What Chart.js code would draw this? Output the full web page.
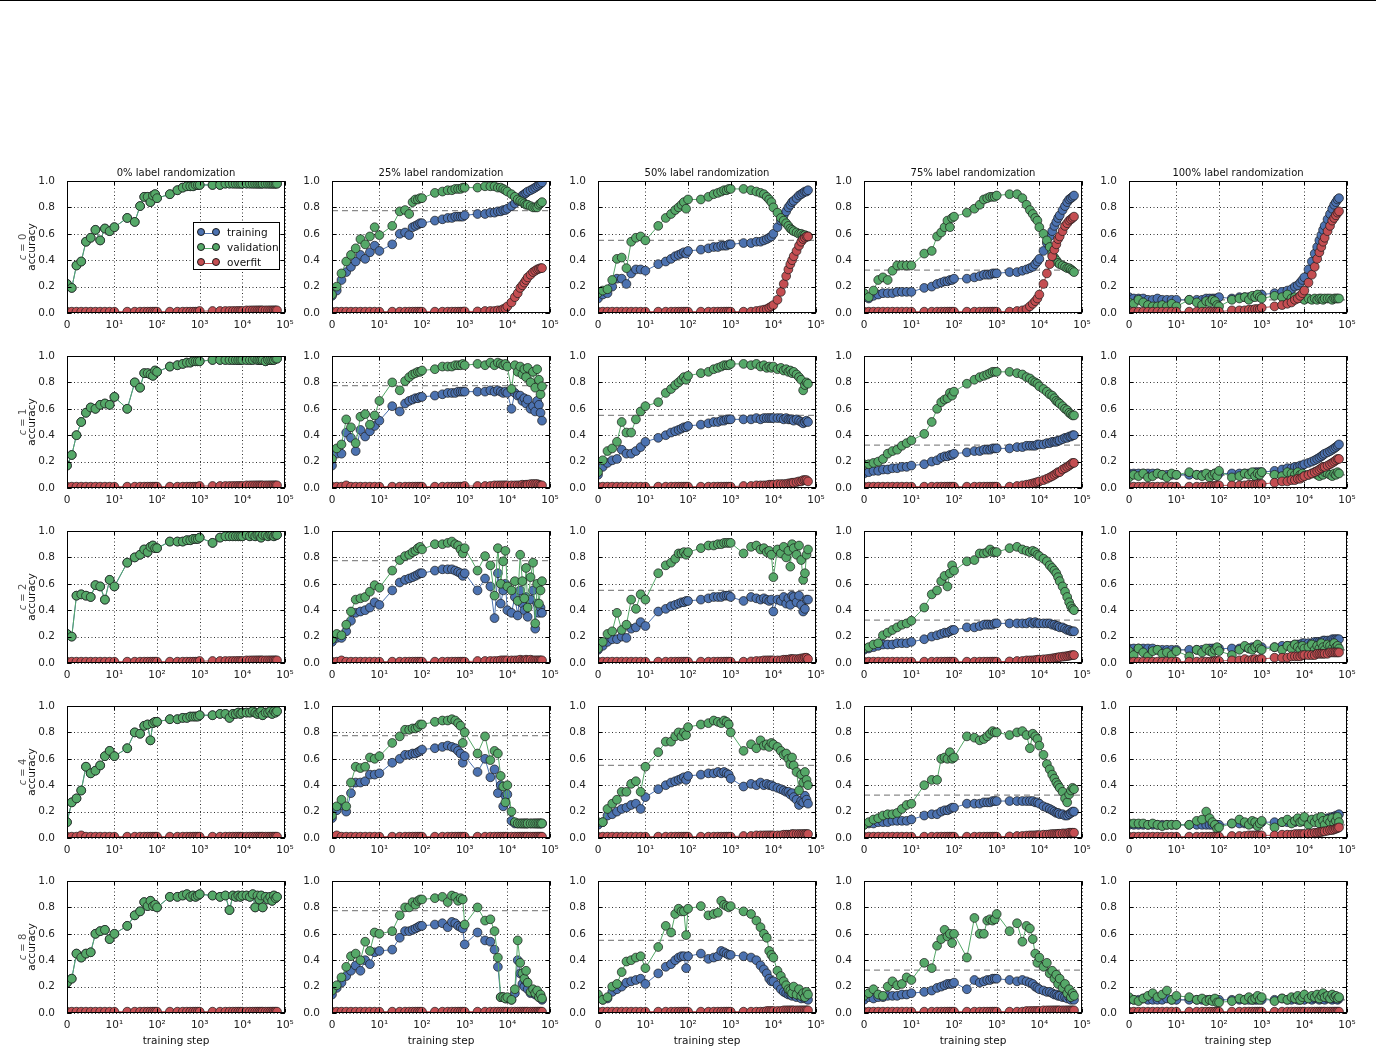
<!DOCTYPE html>
<html><head><meta charset="utf-8">
<script src="https://cdn.jsdelivr.net/npm/chart.js@4.4.1/dist/chart.umd.min.js"></script>
<style>
html,body{margin:0;padding:0;background:#fff;}
body{width:1376px;height:1048px;position:relative;overflow:hidden;font-family:"DejaVu Sans",sans-serif;color:#111;}
.topline{position:absolute;left:0;top:0;width:1376px;height:1px;background:#000;}
canvas{position:absolute;}
.title{position:absolute;transform:translate(-50%,-50%);font-size:10px;white-space:nowrap;}
.xlab{position:absolute;transform:translate(-50%,-50%);font-size:10.5px;white-space:nowrap;}
.ylab{position:absolute;transform:translate(-50%,-50%) rotate(-90deg);white-space:nowrap;font-size:10.5px;}
.ylab.c{color:#555;font-size:10px;}
.legend{position:absolute;left:193px;top:222px;width:87px;height:48px;border:1px solid #000;background:#fff;box-sizing:border-box;}
.lrow{position:absolute;left:0;height:10px;width:100%;}
.lline{position:absolute;left:7px;top:4.5px;width:15px;height:1px;}
.ldot{position:absolute;top:0;width:8px;height:8px;border-radius:50%;border:0.8px solid #1a1a1a;box-sizing:border-box;}
.ltxt{position:absolute;left:33px;top:-2px;font-size:10.5px;line-height:12px;}
</style>
</head><body>
<div class="topline"></div>
<script>
// ---------- axis / category data ----------
const STEPS = [0,1,2,3,4,5,6,7,8,9,10, 20,30,40,50,60,70,80,90,100, 200,300,400,500,600,700,800,900,1000,
  2000,3000,4000,5000,6000,7000,8000,9000,10000, 12500,15000,17500,20000,22500,25000,27500,30000,35000,40000,45000,50000,55000,60000,65000];
const RANDOMIZATION = ['0%','25%','50%','75%','100%'];
const C_VALUES = [0,1,2,4,8];
const CHANCE = [1.0, 0.775, 0.55, 0.325, 0.1];
const X_TICK_STEPS = [0,10,100,1000,10000,100000];
const X_TICK_LABELS = ['0','10¹','10²','10³','10⁴','10⁵'];
const Y_TICKS = [0,0.2,0.4,0.6,0.8,1.0];
const SERIES_NAMES = ['training','validation','overfit'];

// ---------- c = 0 ----------
const val_c0_p0 = [.22,.19,.36,.39,.54,.57,.63,.55,.64,.62,.65, .72,.69,.81,.88,.88,.84,.89,.90,.87, .90,.93,.95,.96,.96,.96,.97,.97,.97, .97,.97,.98,.98,.98,.98,.98,.98,.98, .98,.98,.98,.98,.98,.98,.98,.98,.98,.98,.98,.98,.98,.98,.98];
const train_c0_p0 = val_c0_p0;
const over_c0_p0 = [.01,.01,.01,.01,.01,.01,.01,.01,.01,.01,.01, .01,.01,.01,.01,.01,.01,.01,.01,.01, .01,.01,.01,.01,.01,.01,.01,.01,.015, .015,.015,.015,.015,.015,.015,.015,.015,.015, .02,.02,.02,.02,.02,.02,.02,.02,.02,.02,.02,.02,.02,.02,.02];

const val_c0_p25 = [.14,.20,.30,.39,.44,.49,.56,.52,.58,.65,.59, .66,.77,.78,.75,.84,.86,.86,.87,.87, .91,.92,.93,.93,.94,.94,.94,.95,.95, .95,.96,.96,.96,.95,.95,.94,.93,.92, .90,.88,.86,.85,.84,.83,.82,.82,.81,.80,.80,.80,.82,.83,.84];
const train_c0_p25 = [.13,.17,.25,.31,.35,.39,.44,.41,.46,.51,.47, .52,.60,.61,.59,.65,.66,.67,.68,.68, .70,.71,.72,.72,.73,.73,.73,.73,.74, .75,.75,.76,.76,.77,.77,.78,.78,.79, .81,.83,.85,.87,.89,.90,.91,.92,.93,.94,.95,.96,.97,.98,.99];
const over_c0_p25 = [.01,.01,.01,.01,.01,.01,.01,.01,.01,.01,.01, .01,.01,.01,.01,.01,.01,.01,.01,.01, .01,.01,.01,.01,.01,.01,.01,.01,.012, .012,.015,.015,.015,.02,.02,.03,.035,.05, .08,.12,.15,.19,.21,.23,.25,.27,.29,.31,.32,.33,.335,.34,.34];

const val_c0_p50 = [.15,.17,.18,.25,.41,.42,.34,.54,.57,.58,.55, .66,.72,.75,.78,.80,.82,.84,.79,.86, .86,.88,.90,.91,.92,.93,.93,.94,.94, .94,.93,.92,.91,.90,.88,.86,.84,.80, .76,.72,.70,.68,.66,.64,.63,.62,.61,.60,.60,.59,.59,.58,.58];
const train_c0_p50 = [.11,.14,.15,.20,.26,.26,.22,.30,.33,.33,.32, .37,.39,.41,.43,.44,.45,.46,.45,.47, .48,.49,.50,.50,.51,.51,.51,.52,.52, .53,.53,.54,.54,.55,.56,.57,.58,.60, .65,.70,.74,.77,.80,.82,.84,.85,.87,.89,.90,.91,.92,.92,.93];
const over_c0_p50 = [.01,.01,.01,.01,.01,.01,.01,.01,.01,.01,.01, .01,.01,.01,.01,.01,.01,.01,.01,.01, .01,.01,.01,.01,.01,.01,.01,.01,.01, .01,.01,.015,.02,.025,.03,.04,.05,.06, .10,.16,.22,.28,.33,.37,.40,.43,.47,.51,.54,.56,.57,.58,.58];

const val_c0_p75 = [.15,.12,.17,.25,.27,.25,.32,.36,.36,.36,.36, .45,.47,.58,.61,.65,.70,.65,.72,.73, .76,.79,.82,.86,.87,.88,.88,.88,.89, .90,.90,.87,.82,.78,.75,.72,.70,.65, .60,.55,.50,.45,.42,.40,.38,.37,.36,.35,.34,.34,.33,.32,.31];
const train_c0_p75 = [.12,.11,.13,.14,.15,.15,.15,.16,.16,.16,.16, .19,.20,.22,.23,.24,.24,.25,.25,.26, .26,.27,.28,.29,.29,.29,.30,.30,.30, .31,.31,.32,.33,.34,.35,.37,.39,.41, .47,.53,.58,.62,.66,.69,.72,.74,.78,.81,.84,.86,.87,.88,.89];
const over_c0_p75 = [.01,.01,.01,.01,.01,.01,.01,.01,.01,.01,.01, .01,.01,.01,.01,.01,.01,.01,.01,.01, .01,.01,.01,.01,.01,.01,.01,.01,.01, .01,.015,.02,.03,.05,.07,.09,.11,.14, .22,.30,.37,.43,.48,.52,.56,.58,.62,.66,.68,.70,.71,.72,.73];

const train_c0_p100 = [.12,.11,.11,.11,.10,.10,.11,.10,.10,.10,.10, .10,.10,.10,.11,.11,.11,.11,.11,.12, .11,.12,.12,.12,.12,.13,.13,.13,.14, .15,.16,.17,.18,.20,.21,.23,.25,.27, .33,.39,.45,.50,.55,.59,.63,.66,.71,.75,.79,.82,.84,.86,.87];
const val_c0_p100 = [.08,.07,.10,.08,.06,.05,.05,.06,.05,.07,.05, .10,.08,.06,.09,.08,.10,.09,.06,.05, .10,.11,.12,.10,.13,.12,.14,.12,.11, .13,.12,.14,.11,.12,.11,.12,.11,.10, .11,.10,.11,.10,.11,.11,.10,.11,.11,.11,.10,.11,.11,.11,.11];
const over_c0_p100 = [.01,.01,.01,.01,.01,.01,.01,.01,.01,.01,.01, .01,.01,.01,.01,.01,.01,.01,.01,.01, .02,.02,.02,.025,.025,.03,.03,.03,.04, .05,.06,.07,.08,.10,.11,.13,.15,.17, .23,.29,.35,.41,.46,.50,.54,.57,.62,.66,.70,.72,.74,.76,.77];

// ---------- c = 1 ----------
const val_c1_p0 = [.17,.25,.40,.50,.57,.61,.60,.63,.64,.63,.69, .60,.80,.76,.87,.87,.86,.85,.89,.88, .92,.93,.94,.95,.95,.96,.96,.96,.96, .97,.97,.97,.97,.97,.97,.97,.97,.97, .97,.97,.97,.98,.97,.97,.97,.97,.96,.97,.97,.97,.97,.98,.98];
const train_c1_p0 = val_c1_p0;
const over_c1_p0 = [.01,.01,.01,.01,.01,.01,.01,.01,.01,.01,.01, .01,.01,.01,.01,.01,.01,.01,.01,.01, .01,.01,.01,.01,.01,.01,.01,.01,.015, .015,.015,.015,.015,.015,.015,.015,.015,.015, .02,.02,.02,.02,.02,.02,.02,.02,.02,.02,.02,.02,.02,.02,.02];

const val_c1_p25 = [.22,.30,.33,.52,.46,.34,.54,.56,.48,.55,.66, .80,.74,.81,.84,.86,.87,.88,.88,.89, .90,.92,.92,.92,.93,.93,.93,.94,.93, .94,.93,.95,.93,.95,.94,.93,.94,.92, .75,.93,.88,.92,.86,.90,.84,.91,.80,.88,.76,.90,.82,.71,.77];
const train_c1_p25 = [.17,.26,.26,.42,.38,.28,.44,.39,.43,.47,.51, .62,.58,.64,.66,.67,.68,.68,.69,.69, .70,.71,.72,.72,.72,.73,.73,.73,.73, .73,.73,.74,.73,.74,.73,.72,.73,.72, .60,.72,.70,.70,.66,.68,.64,.67,.60,.62,.58,.66,.63,.57,.51];
const over_c1_p25 = [.01,.01,.01,.02,.01,.01,.01,.01,.01,.01,.01, .01,.01,.01,.01,.01,.01,.01,.01,.01, .01,.01,.01,.01,.01,.01,.01,.01,.015, .015,.015,.015,.02,.02,.02,.02,.02,.02, .02,.02,.02,.02,.025,.02,.025,.025,.03,.03,.03,.03,.025,.02,.02];

const val_c1_p50 = [.12,.21,.28,.30,.35,.50,.42,.42,.52,.58,.62, .65,.72,.75,.78,.80,.82,.84,.82,.85, .87,.88,.90,.91,.92,.93,.93,.93,.94, .94,.93,.94,.92,.93,.91,.92,.91,.92, .90,.91,.89,.90,.88,.89,.87,.88,.86,.84,.82,.74,.78,.80,.79];
const train_c1_p50 = [.10,.16,.19,.21,.22,.29,.26,.26,.28,.31,.35, .38,.40,.42,.43,.44,.45,.46,.46,.47, .48,.49,.50,.50,.51,.51,.52,.52,.52, .52,.52,.53,.52,.53,.53,.53,.53,.53, .53,.53,.52,.53,.52,.52,.52,.51,.52,.51,.50,.49,.50,.51,.50];
const over_c1_p50 = [.01,.01,.01,.01,.01,.01,.01,.01,.01,.01,.01, .01,.01,.01,.01,.01,.01,.01,.01,.01, .01,.01,.01,.01,.01,.01,.01,.01,.01, .015,.015,.02,.02,.02,.02,.025,.025,.025, .03,.03,.03,.03,.035,.035,.04,.04,.045,.05,.05,.06,.06,.06,.05];

const val_c1_p75 = [.18,.18,.19,.20,.22,.26,.28,.29,.32,.34,.36, .41,.50,.60,.65,.67,.68,.72,.70,.73, .79,.82,.84,.85,.86,.87,.88,.88,.88, .88,.87,.86,.84,.83,.81,.80,.79,.77, .75,.73,.71,.70,.68,.66,.65,.64,.62,.60,.59,.57,.56,.55,.55];
const train_c1_p75 = [.11,.12,.13,.13,.14,.14,.15,.15,.16,.16,.17, .18,.20,.21,.23,.24,.24,.25,.25,.26, .27,.28,.28,.29,.29,.29,.30,.30,.30, .30,.31,.31,.32,.32,.32,.32,.33,.33, .33,.34,.34,.35,.35,.35,.36,.36,.37,.38,.38,.39,.39,.40,.40];
const over_c1_p75 = [.01,.01,.01,.01,.01,.01,.01,.01,.01,.01,.01, .01,.01,.01,.01,.01,.01,.01,.01,.01, .01,.01,.01,.01,.01,.01,.01,.01,.01, .01,.015,.02,.025,.03,.035,.04,.045,.05, .06,.07,.08,.09,.10,.11,.12,.12,.14,.15,.16,.17,.18,.19,.19];

const train_c1_p100 = [.11,.11,.11,.11,.11,.11,.11,.10,.10,.10,.10, .10,.10,.10,.10,.10,.10,.11,.11,.11, .11,.11,.11,.11,.11,.12,.12,.12,.12, .13,.14,.15,.15,.16,.16,.17,.17,.18, .19,.20,.21,.22,.23,.24,.25,.26,.27,.28,.29,.30,.31,.32,.33];
const val_c1_p100 = [.08,.10,.09,.11,.08,.09,.11,.10,.08,.11,.10, .12,.10,.09,.11,.08,.10,.11,.09,.13, .08,.09,.11,.10,.12,.09,.11,.10,.12, .10,.09,.12,.11,.10,.12,.10,.11,.09, .10,.11,.12,.10,.09,.11,.10,.12,.11,.10,.09,.11,.10,.12,.11];
const over_c1_p100 = [.01,.01,.01,.01,.01,.01,.01,.01,.01,.01,.01, .01,.01,.01,.01,.015,.015,.015,.02,.02, .02,.02,.02,.025,.025,.025,.03,.03,.03, .04,.05,.05,.06,.06,.07,.07,.08,.09, .10,.11,.12,.13,.14,.15,.16,.16,.17,.18,.19,.20,.21,.22,.22];

// ---------- c = 2 ----------
const val_c2_p0 = [.22,.20,.51,.52,.51,.50,.59,.58,.48,.63,.58, .76,.80,.82,.86,.84,.88,.89,.87,.87, .92,.92,.92,.93,.93,.94,.94,.94,.95, .91,.95,.96,.96,.96,.96,.96,.96,.96, .97,.96,.97,.96,.97,.97,.95,.97,.97,.96,.97,.97,.96,.97,.97];
const train_c2_p0 = val_c2_p0;
const over_c2_p0 = [.01,.01,.01,.01,.01,.01,.01,.01,.01,.01,.01, .01,.01,.01,.01,.01,.01,.01,.01,.01, .01,.01,.01,.01,.01,.01,.01,.01,.015, .015,.015,.015,.015,.015,.015,.015,.015,.015, .02,.02,.02,.02,.02,.02,.02,.02,.02,.02,.02,.02,.02,.02,.02];

const val_c2_p25 = [.18,.22,.21,.29,.39,.48,.49,.50,.54,.59,.57, .70,.78,.81,.82,.84,.85,.87,.88,.86, .90,.90,.91,.92,.90,.89,.86,.83,.87, .70,.81,.74,.51,.87,.60,.77,.85,.58, .55,.62,.47,.82,.62,.49,.72,.42,.65,.76,.30,.60,.45,.55,.62];
const train_c2_p25 = [.16,.19,.19,.24,.32,.38,.39,.40,.42,.46,.44, .55,.61,.63,.64,.65,.66,.67,.68,.68, .70,.71,.71,.71,.70,.69,.68,.66,.68, .55,.64,.58,.34,.68,.45,.55,.60,.40, .38,.50,.36,.55,.45,.40,.50,.35,.48,.55,.26,.45,.38,.42,.38];
const over_c2_p25 = [.01,.01,.02,.01,.01,.01,.01,.01,.01,.01,.01, .01,.01,.01,.01,.01,.01,.01,.01,.01, .01,.01,.01,.01,.01,.01,.01,.01,.01, .015,.015,.015,.015,.015,.02,.02,.02,.02, .02,.02,.02,.025,.02,.02,.025,.02,.025,.02,.02,.02,.02,.02,.02];

const val_c2_p50 = [.11,.16,.22,.24,.38,.25,.29,.48,.41,.52,.48, .68,.74,.76,.79,.83,.83,.84,.82,.84, .87,.89,.89,.90,.90,.91,.91,.91,.91, .83,.88,.89,.86,.87,.84,.85,.82,.65, .86,.83,.88,.80,.85,.73,.90,.87,.82,.89,.78,.63,.68,.82,.86];
const train_c2_p50 = [.10,.13,.16,.18,.18,.20,.19,.26,.27,.31,.28, .39,.41,.43,.44,.45,.46,.46,.47,.47, .48,.49,.50,.50,.50,.51,.51,.51,.50, .47,.50,.49,.48,.49,.48,.47,.48,.39, .48,.47,.50,.45,.49,.44,.51,.50,.46,.51,.44,.39,.41,.48,.48];
const over_c2_p50 = [.01,.01,.01,.01,.01,.01,.01,.01,.01,.01,.01, .01,.01,.01,.01,.01,.01,.01,.01,.01, .01,.01,.01,.01,.01,.01,.01,.01,.01, .01,.012,.015,.015,.02,.02,.02,.02,.02, .02,.02,.025,.025,.025,.03,.03,.03,.03,.03,.035,.035,.04,.04,.03];

const val_c2_p75 = [.11,.12,.14,.15,.21,.23,.25,.27,.29,.30,.32, .42,.52,.55,.62,.66,.58,.68,.74,.70, .77,.78,.83,.83,.84,.86,.84,.84,.84, .87,.88,.86,.85,.84,.85,.84,.82,.81, .79,.77,.74,.72,.70,.68,.65,.62,.58,.54,.50,.46,.43,.41,.40];
const train_c2_p75 = [.10,.11,.12,.13,.14,.14,.14,.15,.15,.15,.16, .18,.20,.21,.22,.23,.23,.24,.25,.25, .27,.27,.28,.29,.29,.29,.29,.30,.30, .30,.30,.30,.30,.31,.30,.31,.30,.30, .30,.30,.30,.29,.29,.28,.28,.27,.27,.26,.25,.25,.24,.24,.24];
const over_c2_p75 = [.01,.01,.01,.01,.01,.01,.01,.01,.01,.01,.01, .01,.01,.01,.01,.01,.01,.01,.01,.01, .01,.01,.01,.01,.01,.01,.01,.01,.01, .012,.015,.015,.02,.02,.02,.022,.025,.025, .028,.03,.032,.035,.037,.04,.042,.045,.048,.05,.052,.055,.058,.06,.06];

const train_c2_p100 = [.11,.11,.11,.11,.11,.11,.10,.10,.10,.10,.10, .10,.10,.10,.10,.11,.11,.11,.11,.11, .11,.11,.12,.11,.12,.12,.12,.12,.12, .12,.13,.13,.13,.14,.14,.14,.15,.15, .15,.15,.16,.16,.16,.16,.17,.17,.17,.17,.18,.18,.18,.18,.18];
const val_c2_p100 = [.09,.06,.11,.08,.05,.09,.10,.07,.08,.06,.09, .05,.10,.08,.11,.09,.08,.10,.12,.09, .06,.10,.13,.11,.10,.12,.14,.11,.10, .12,.10,.13,.11,.14,.12,.10,.13,.11, .12,.14,.10,.13,.11,.15,.12,.10,.14,.13,.11,.15,.12,.13,.11];
const over_c2_p100 = [.01,.01,.01,.01,.01,.01,.01,.01,.01,.01,.01, .01,.01,.01,.01,.01,.01,.015,.015,.015, .02,.02,.03,.02,.025,.03,.02,.03,.03, .04,.04,.04,.05,.05,.05,.05,.06,.06, .06,.06,.06,.07,.07,.07,.07,.07,.07,.08,.08,.08,.08,.08,.08];

// ---------- c = 4 ----------
const val_c4_p0 = [.12,.27,.30,.36,.54,.49,.51,.55,.62,.66,.62, .68,.80,.79,.85,.86,.74,.87,.88,.88, .90,.90,.91,.91,.92,.92,.92,.92,.93, .93,.94,.94,.91,.94,.94,.95,.94,.95, .95,.95,.96,.95,.94,.95,.96,.93,.95,.95,.96,.94,.96,.95,.96];
const train_c4_p0 = val_c4_p0;
const over_c4_p0 = [.01,.01,.01,.02,.01,.01,.01,.01,.01,.01,.01, .01,.01,.01,.01,.01,.01,.01,.01,.01, .01,.01,.01,.01,.01,.01,.01,.01,.01, .01,.01,.01,.01,.01,.01,.01,.01,.01, .01,.01,.01,.01,.01,.01,.01,.01,.01,.01,.01,.01,.01,.01,.01];

const val_c4_p25 = [.17,.24,.29,.24,.42,.54,.53,.54,.61,.60,.62, .72,.77,.82,.82,.83,.83,.84,.86,.86, .88,.89,.89,.90,.89,.87,.85,.72,.80, .64,.77,.59,.66,.64,.47,.39,.27,.40, .20,.12,.11,.11,.11,.11,.11,.11,.11,.11,.11,.11,.11,.11,.11];
const train_c4_p25 = [.15,.21,.25,.20,.34,.42,.42,.43,.48,.48,.49, .57,.60,.63,.63,.64,.64,.65,.66,.67, .68,.69,.70,.69,.68,.66,.64,.57,.62, .50,.60,.46,.52,.34,.40,.24,.32,.33, .13,.11,.11,.11,.11,.11,.11,.11,.11,.11,.11,.11,.11,.11,.11];
const over_c4_p25 = [.01,.02,.01,.01,.01,.01,.01,.01,.01,.01,.01, .01,.01,.01,.01,.01,.01,.01,.01,.01, .01,.01,.01,.01,.01,.01,.01,.01,.01, .01,.01,.01,.01,.01,.01,.01,.01,.01, .01,.01,.01,.01,.01,.01,.01,.01,.01,.01,.01,.01,.01,.01,.01];

const val_c4_p50 = [.12,.12,.22,.26,.29,.35,.35,.41,.43,.35,.54, .65,.73,.73,.77,.80,.77,.80,.78,.84, .86,.87,.89,.88,.87,.89,.88,.86,.80, .66,.71,.68,.74,.70,.71,.69,.72,.71, .69,.66,.63,.64,.60,.56,.61,.55,.50,.36,.48,.42,.50,.44,.40];
const train_c4_p50 = [.10,.12,.17,.18,.20,.22,.23,.25,.26,.22,.31, .37,.40,.42,.43,.44,.45,.46,.44,.47, .48,.49,.49,.50,.49,.50,.49,.48,.45, .39,.41,.40,.42,.40,.41,.40,.40,.39, .38,.37,.36,.35,.35,.33,.34,.31,.29,.25,.28,.27,.32,.29,.26];
const over_c4_p50 = [.01,.01,.01,.01,.01,.01,.01,.01,.01,.01,.01, .01,.01,.01,.01,.01,.01,.01,.01,.01, .01,.01,.01,.01,.01,.01,.01,.01,.01, .015,.015,.02,.02,.02,.02,.02,.02,.02, .02,.02,.025,.025,.025,.025,.03,.03,.03,.03,.03,.03,.03,.03,.03];

const val_c4_p75 = [.10,.12,.14,.15,.17,.18,.18,.19,.22,.25,.26, .40,.44,.44,.60,.61,.60,.65,.60,.61, .77,.76,.74,.75,.77,.79,.81,.80,.80, .78,.80,.81,.78,.68,.79,.77,.75,.70, .63,.56,.52,.48,.45,.42,.40,.38,.35,.30,.27,.33,.36,.38,.37];
const train_c4_p75 = [.10,.11,.11,.12,.12,.12,.13,.13,.13,.13,.14, .17,.18,.18,.20,.21,.21,.22,.23,.23, .26,.26,.26,.27,.27,.27,.28,.28,.28, .28,.28,.28,.28,.28,.28,.27,.27,.26, .24,.23,.22,.21,.20,.19,.19,.18,.18,.17,.17,.18,.19,.20,.20];
const over_c4_p75 = [.01,.01,.01,.01,.01,.01,.01,.01,.01,.01,.01, .01,.01,.01,.01,.01,.01,.01,.01,.01, .01,.01,.01,.01,.01,.01,.01,.01,.01, .012,.015,.015,.018,.02,.02,.02,.022,.022, .025,.025,.028,.03,.03,.03,.032,.032,.035,.035,.035,.04,.04,.04,.04];

const train_c4_p100 = [.10,.10,.10,.10,.10,.10,.10,.10,.10,.10,.10, .10,.10,.10,.10,.10,.10,.10,.10,.10, .11,.11,.11,.11,.11,.11,.11,.11,.12, .12,.12,.12,.12,.12,.13,.13,.13,.13, .13,.13,.13,.14,.14,.14,.14,.14,.15,.15,.16,.16,.17,.17,.18];
const val_c4_p100 = [.11,.11,.11,.11,.10,.11,.10,.09,.10,.10,.10, .10,.13,.14,.20,.15,.12,.10,.07,.08, .11,.14,.12,.10,.13,.12,.09,.11,.13, .08,.12,.14,.11,.13,.15,.12,.13,.16, .10,.14,.12,.15,.11,.16,.13,.10,.14,.12,.15,.11,.13,.16,.12];
const over_c4_p100 = [.01,.01,.01,.01,.01,.01,.01,.01,.01,.01,.01, .01,.01,.01,.01,.01,.01,.01,.01,.01, .015,.015,.015,.02,.02,.02,.02,.02,.02, .02,.025,.025,.025,.03,.03,.03,.03,.03, .035,.035,.04,.04,.045,.045,.05,.05,.055,.06,.06,.065,.07,.075,.08];

// ---------- c = 8 ----------
const val_c8_p0 = [.23,.26,.45,.42,.45,.46,.60,.62,.63,.56,.60, .66,.74,.77,.84,.81,.85,.81,.82,.80, .88,.88,.89,.90,.88,.89,.88,.89,.90, .89,.88,.89,.78,.89,.88,.89,.88,.89, .89,.88,.90,.80,.89,.86,.89,.80,.88,.86,.88,.85,.89,.87,.88];
const train_c8_p0 = val_c8_p0;
const over_c8_p0 = [.01,.01,.01,.01,.01,.01,.01,.01,.01,.01,.01, .01,.01,.01,.01,.01,.01,.01,.01,.01, .01,.01,.01,.01,.01,.01,.01,.01,.01, .01,.01,.01,.01,.01,.01,.01,.01,.01, .01,.01,.01,.01,.01,.01,.01,.01,.01,.01,.01,.01,.01,.01,.01];

const val_c8_p25 = [.17,.21,.27,.35,.43,.45,.40,.54,.47,.61,.60, .62,.74,.80,.80,.84,.82,.85,.86,.86, .87,.88,.84,.89,.88,.85,.87,.86,.67, .80,.70,.71,.62,.42,.12,.12,.11,.12, .10,.18,.55,.38,.30,.26,.32,.23,.16,.18,.15,.17,.12,.14,.11];
const train_c8_p25 = [.14,.19,.23,.28,.32,.36,.32,.40,.37,.46,.47, .48,.57,.62,.62,.63,.64,.65,.66,.66, .67,.68,.65,.69,.68,.66,.65,.64,.52, .61,.55,.54,.48,.35,.12,.12,.11,.11, .10,.15,.40,.30,.22,.20,.24,.18,.15,.17,.14,.16,.12,.13,.10];
const over_c8_p25 = [.01,.01,.01,.01,.01,.01,.01,.01,.01,.01,.01, .01,.01,.01,.01,.01,.01,.01,.01,.01, .01,.01,.01,.01,.01,.01,.01,.01,.01, .01,.01,.01,.01,.01,.01,.01,.01,.01, .01,.01,.01,.01,.01,.01,.01,.01,.01,.01,.01,.01,.01,.01,.01];

const val_c8_p50 = [.14,.10,.12,.20,.22,.31,.39,.40,.42,.43,.34, .50,.66,.61,.75,.79,.77,.77,.59,.79, .81,.74,.75,.76,.85,.82,.81,.80,.81, .77,.75,.70,.65,.60,.57,.47,.44,.42, .32,.28,.24,.21,.18,.17,.15,.20,.14,.18,.13,.15,.12,.16,.14];
const train_c8_p50 = [.12,.10,.11,.16,.18,.20,.23,.24,.25,.26,.22, .30,.35,.37,.40,.42,.43,.43,.34,.43, .45,.41,.42,.43,.47,.46,.45,.44,.44, .43,.42,.40,.36,.33,.30,.26,.24,.24, .21,.18,.16,.15,.14,.14,.13,.14,.12,.13,.11,.12,.11,.12,.10];
const over_c8_p50 = [.01,.01,.01,.01,.01,.01,.01,.01,.01,.01,.01, .01,.01,.01,.01,.01,.01,.01,.01,.01, .01,.01,.01,.01,.01,.01,.01,.01,.01, .01,.01,.01,.01,.01,.015,.015,.015,.015, .015,.015,.02,.02,.02,.02,.02,.02,.02,.02,.02,.02,.02,.02,.02];

const val_c8_p75 = [.13,.15,.18,.14,.13,.20,.24,.21,.22,.27,.25, .38,.34,.51,.56,.63,.58,.60,.53,.60, .42,.72,.60,.60,.70,.71,.70,.71,.75, .62,.68,.54,.66,.64,.56,.45,.38,.42, .35,.38,.30,.32,.26,.29,.22,.26,.19,.22,.15,.18,.12,.15,.13];
const train_c8_p75 = [.10,.12,.11,.12,.12,.13,.13,.13,.14,.14,.15, .16,.17,.19,.20,.21,.22,.22,.22,.23, .18,.25,.23,.24,.25,.25,.26,.26,.26, .25,.24,.25,.24,.23,.22,.20,.19,.18, .17,.16,.16,.15,.14,.14,.13,.13,.12,.12,.11,.12,.10,.11,.10];
const over_c8_p75 = [.01,.01,.01,.01,.01,.01,.01,.01,.01,.01,.01, .01,.01,.01,.01,.01,.01,.01,.01,.01, .01,.01,.01,.01,.01,.01,.01,.01,.01, .01,.01,.01,.015,.015,.015,.015,.015,.015, .02,.02,.02,.02,.02,.02,.02,.02,.02,.02,.02,.02,.02,.02,.02];

const train_c8_p100 = [.10,.10,.10,.11,.10,.10,.10,.10,.11,.10,.10, .10,.10,.10,.10,.10,.10,.10,.10,.10, .10,.10,.10,.10,.10,.10,.10,.11,.10, .10,.11,.10,.10,.11,.10,.10,.11,.10, .11,.10,.11,.11,.10,.11,.11,.10,.11,.11,.10,.11,.11,.10,.11];
const val_c8_p100 = [.12,.10,.09,.11,.13,.15,.12,.14,.17,.10,.13, .12,.10,.11,.09,.10,.09,.11,.08,.08, .09,.11,.10,.12,.10,.11,.13,.10,.12, .09,.11,.10,.12,.11,.13,.10,.12,.14, .11,.13,.12,.14,.11,.13,.15,.12,.13,.11,.14,.12,.13,.11,.12];
const over_c8_p100 = [.01,.01,.01,.01,.01,.01,.01,.01,.01,.01,.01, .01,.01,.01,.01,.01,.01,.01,.01,.01, .01,.01,.01,.01,.01,.01,.01,.01,.01, .01,.01,.01,.01,.01,.01,.01,.01,.01, .01,.01,.01,.01,.01,.01,.01,.01,.01,.01,.01,.01,.01,.01,.01];

// ---------- table built from the arrays ----------
const PANELS = [
  [[train_c0_p0,val_c0_p0,over_c0_p0],[train_c0_p25,val_c0_p25,over_c0_p25],[train_c0_p50,val_c0_p50,over_c0_p50],[train_c0_p75,val_c0_p75,over_c0_p75],[train_c0_p100,val_c0_p100,over_c0_p100]],
  [[train_c1_p0,val_c1_p0,over_c1_p0],[train_c1_p25,val_c1_p25,over_c1_p25],[train_c1_p50,val_c1_p50,over_c1_p50],[train_c1_p75,val_c1_p75,over_c1_p75],[train_c1_p100,val_c1_p100,over_c1_p100]],
  [[train_c2_p0,val_c2_p0,over_c2_p0],[train_c2_p25,val_c2_p25,over_c2_p25],[train_c2_p50,val_c2_p50,over_c2_p50],[train_c2_p75,val_c2_p75,over_c2_p75],[train_c2_p100,val_c2_p100,over_c2_p100]],
  [[train_c4_p0,val_c4_p0,over_c4_p0],[train_c4_p25,val_c4_p25,over_c4_p25],[train_c4_p50,val_c4_p50,over_c4_p50],[train_c4_p75,val_c4_p75,over_c4_p75],[train_c4_p100,val_c4_p100,over_c4_p100]],
  [[train_c8_p0,val_c8_p0,over_c8_p0],[train_c8_p25,val_c8_p25,over_c8_p25],[train_c8_p50,val_c8_p50,over_c8_p50],[train_c8_p75,val_c8_p75,over_c8_p75],[train_c8_p100,val_c8_p100,over_c8_p100]]
];

// ---------- styling / layout ----------
const COLORS = ['#4C72B0','#55A868','#C44E52'];
const PLOT_LEFT = [67,332,598,864,1129];
const PLOT_TOP = [181,356,531,706,881];
const PLOT_W = 218, PLOT_H = 132;
const PAD_L = 45, PAD_T = 12, PAD_R = 14, PAD_B = 22;
const FONT = 'DejaVu Sans';

// symmetric-log x transform (linthresh 10, linscale 1, base 10)
const LINTHRESH = 10, LINSCALE_ADJ = 1 / (1 - 1 / 10);
function symlog(s) { return s <= LINTHRESH ? s / LINTHRESH * LINSCALE_ADJ : LINSCALE_ADJ + Math.log10(s / LINTHRESH); }
const X_MAX = symlog(X_TICK_STEPS[X_TICK_STEPS.length - 1]);

const framePlugin = {
  id: 'frame',
  beforeDatasetsDraw(chart) {
    const {ctx, chartArea: a, scales: {x, y}} = chart;
    ctx.save();
    ctx.strokeStyle = '#000'; ctx.lineWidth = 0.8; ctx.setLineDash([1, 2.5]);
    x.ticks.forEach(t => { const p = Math.round(x.getPixelForValue(t.value)) + 0.5; ctx.beginPath(); ctx.moveTo(p, a.top); ctx.lineTo(p, a.bottom); ctx.stroke(); });
    y.ticks.forEach(t => { const p = Math.round(y.getPixelForValue(t.value)) + 0.5; ctx.beginPath(); ctx.moveTo(a.left, p); ctx.lineTo(a.right, p); ctx.stroke(); });
    ctx.restore();
  },
  afterDatasetsDraw(chart) {
    const {ctx, chartArea: a, scales: {x, y}} = chart;
    ctx.save();
    ctx.strokeStyle = '#000'; ctx.lineWidth = 1; ctx.setLineDash([]);
    const L = Math.round(a.left) + 0.5, T = Math.round(a.top) + 0.5, R = Math.round(a.right) - 0.5, B = Math.round(a.bottom) - 0.5;
    ctx.strokeRect(L, T, R - L, B - T);
    ctx.beginPath();
    x.ticks.forEach(t => { const p = Math.round(x.getPixelForValue(t.value)) + 0.5; ctx.moveTo(p, B); ctx.lineTo(p, B - 4); ctx.moveTo(p, T); ctx.lineTo(p, T + 4); });
    y.ticks.forEach(t => { const p = Math.round(y.getPixelForValue(t.value)) + 0.5; ctx.moveTo(L, p); ctx.lineTo(L + 4, p); ctx.moveTo(R, p); ctx.lineTo(R - 4, p); });
    ctx.stroke();
    ctx.restore();
  }
};

function seriesDataset(arr, color, order) {
  return {
    data: STEPS.map((s, i) => ({x: symlog(s), y: arr[i]})),
    showLine: true, borderColor: color, borderWidth: 1, backgroundColor: color,
    pointBackgroundColor: color, pointBorderColor: '#1a1a1a', pointBorderWidth: 0.7,
    pointRadius: 4.4, pointHoverRadius: 4.4, order, clip: 0
  };
}

function makePanel(ri, ci) {
  const cv = document.createElement('canvas');
  const W = PAD_L + PLOT_W + PAD_R, H = PAD_T + PLOT_H + PAD_B;
  cv.width = W; cv.height = H;
  cv.style.width = W + 'px'; cv.style.height = H + 'px';
  cv.style.left = (PLOT_LEFT[ci] - PAD_L) + 'px';
  cv.style.top = (PLOT_TOP[ri] - PAD_T) + 'px';
  document.body.appendChild(cv);
  const [tr, va, ov] = PANELS[ri][ci];
  new Chart(cv, {
    type: 'scatter',
    data: { datasets: [
      { data: [{x: 0, y: CHANCE[ci]}, {x: X_MAX, y: CHANCE[ci]}], showLine: true, borderColor: '#8a8a8a', borderWidth: 1.2, borderDash: [6, 4], pointRadius: 0, order: 4, clip: 0 },
      seriesDataset(tr, COLORS[0], 3),
      seriesDataset(va, COLORS[1], 2),
      seriesDataset(ov, COLORS[2], 1)
    ]},
    options: {
      responsive: false, animation: false, events: [],
      layout: { padding: { top: PAD_T, right: PAD_R, left: 0, bottom: 0 } },
      plugins: { legend: { display: false }, tooltip: { enabled: false } },
      scales: {
        x: {
          type: 'linear', min: 0, max: X_MAX,
          afterBuildTicks(s) { s.ticks = X_TICK_STEPS.map(v => ({value: symlog(v)})); },
          afterFit(s) { s.height = PAD_B; },
          grid: { display: false }, border: { display: false },
          ticks: { autoSkip: false, maxRotation: 0, minRotation: 0, padding: -2, color: '#222', font: { family: FONT, size: 10.5 },
                   callback: (v, i) => X_TICK_LABELS[i] }
        },
        y: {
          type: 'linear', min: 0, max: 1,
          afterBuildTicks(s) { s.ticks = Y_TICKS.map(v => ({value: v})); },
          afterFit(s) { s.width = PAD_L; },
          grid: { display: false }, border: { display: false },
          ticks: { padding: 4, color: '#222', font: { family: FONT, size: 10.5 }, callback: v => v.toFixed(1) }
        }
      }
    },
    plugins: [framePlugin]
  });
}

function addDiv(cls, html, x, y) {
  const d = document.createElement('div');
  d.className = cls; d.innerHTML = html;
  d.style.left = x + 'px'; d.style.top = y + 'px';
  document.body.appendChild(d);
  return d;
}

for (let ri = 0; ri < 5; ri++) {
  for (let ci = 0; ci < 5; ci++) makePanel(ri, ci);
  const cy = PLOT_TOP[ri] + PLOT_H / 2;
  addDiv('ylab c', '<i>c</i> = ' + C_VALUES[ri], 21.5, cy);
  addDiv('ylab', 'accuracy', 31, cy);
}
for (let ci = 0; ci < 5; ci++) {
  const cx = PLOT_LEFT[ci] + PLOT_W / 2;
  addDiv('title', RANDOMIZATION[ci] + ' label randomization', cx, 171.5);
  addDiv('xlab', 'training step', cx, 1040);
}

// legend (first panel)
const lg = document.createElement('div');
lg.className = 'legend';
SERIES_NAMES.forEach((name, i) => {
  const row = document.createElement('div');
  row.className = 'lrow'; row.style.top = (5 + i * 15) + 'px';
  row.innerHTML = '<div class="lline" style="background:' + COLORS[i] + '"></div>' +
    '<div class="ldot" style="left:3px;background:' + COLORS[i] + '"></div>' +
    '<div class="ldot" style="left:18px;background:' + COLORS[i] + '"></div>' +
    '<div class="ltxt">' + name + '</div>';
  lg.appendChild(row);
});
document.body.appendChild(lg);
</script>
</body></html>
